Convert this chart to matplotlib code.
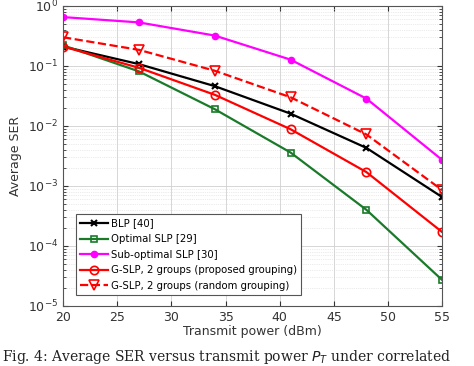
import numpy as np
import matplotlib.pyplot as plt
from matplotlib.ticker import LogLocator, NullFormatter

# Transmit power (dBm)
power = [20, 27, 34, 41, 48, 55]

# Average SER
ser_blp = [0.21, 0.107, 0.046, 0.016, 0.0043, 0.00065]
ser_opt = [0.22, 0.081, 0.019, 0.0036, 0.0004, 2.7e-5]
ser_subopt = [0.65, 0.53, 0.32, 0.127, 0.0285, 0.0027]
ser_gslp_prop = [0.21, 0.093, 0.033, 0.0088, 0.0017, 0.00017]
ser_gslp_rand = [0.30, 0.185, 0.083, 0.030, 0.0072, 0.00085]

fig = plt.figure(figsize=(4.74, 3.66), dpi=100)
ax = fig.add_axes([0.133, 0.164, 0.8, 0.82])

green = '#1a7a2a'
ax.semilogy(power, ser_blp, '-x', color='black', lw=1.6, ms=4.5, mew=1.5, label='BLP [40]')
ax.semilogy(power, ser_opt, '-s', color=green, lw=1.6, ms=4.5, mfc='none', mew=1.2, label='Optimal SLP [29]')
ax.semilogy(power, ser_subopt, '-o', color='magenta', lw=1.6, ms=4.5, label='Sub-optimal SLP [30]')
ax.semilogy(power, ser_gslp_prop, '-o', color='red', lw=1.6, ms=6, mfc='none', mew=1.2,
             label='G-SLP, 2 groups (proposed grouping)')
ax.semilogy(power, ser_gslp_rand, '--v', color='red', lw=1.6, ms=7, mfc='none', mew=1.2,
             label='G-SLP, 2 groups (random grouping)')

ax.set_xlim(20, 55)
ax.set_ylim(1e-5, 1)
ax.set_xticks([20, 25, 30, 35, 40, 45, 50, 55])
ax.yaxis.set_major_locator(LogLocator(base=10, numticks=10))
ax.yaxis.set_minor_locator(LogLocator(base=10, subs=np.arange(2, 10), numticks=10))
ax.yaxis.set_minor_formatter(NullFormatter())
ax.tick_params(labelsize=9, colors='#333333', direction='in', which='both', top=True, right=True)
ax.grid(True, which='major', color='#d0d0d0', lw=0.6)
ax.grid(True, which='minor', color='#d8d8d8', lw=0.5, ls=':')
for s in ax.spines.values():
    s.set_color('#555555')

ax.set_xlabel('Transmit power (dBm)', fontsize=9, color='#333333', labelpad=1)
ax.set_ylabel('Average SER', fontsize=9, color='#333333', labelpad=4)

leg = ax.legend(loc='lower left', fontsize=7.3, handlelength=2.8, borderpad=0.4,
                labelspacing=0.55, handletextpad=0.3, fancybox=False, framealpha=1,
                bbox_to_anchor=(0.02, 0.02))
leg.get_frame().set_edgecolor('#555555')
leg.get_frame().set_linewidth(0.8)

fig.text(0.005, 0.0, 'Fig. 4: Average SER versus transmit power $P_T$ under correlated',
         family='serif', fontsize=10, va='bottom', color='#222222')

fig.savefig('out.png', dpi=100)
